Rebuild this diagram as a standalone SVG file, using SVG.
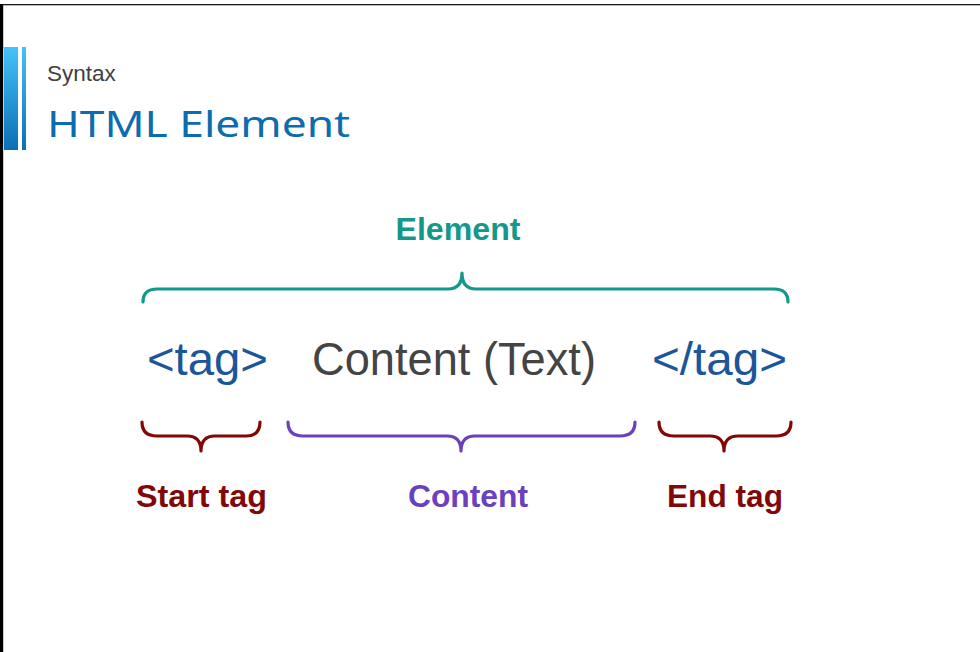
<svg xmlns="http://www.w3.org/2000/svg" width="980" height="652" viewBox="0 0 980 652">
<defs>
<linearGradient id="bar" x1="0" y1="0" x2="0" y2="1">
<stop offset="0" stop-color="#45c2f8"/>
<stop offset="1" stop-color="#0b6fb6"/>
</linearGradient>
<style>
.brace{fill:none;stroke-width:3.2;stroke-linecap:round;stroke-linejoin:round}
.lbl{font-family:"Liberation Sans",Arial,sans-serif;font-weight:bold;font-size:32px;text-anchor:middle}
.code{font-family:"Liberation Sans",Arial,sans-serif;font-size:47px}
</style>
</defs>
<rect width="980" height="652" fill="#ffffff"/>
<rect x="0" y="4" width="980" height="1.3" fill="#1a1a1a"/>
<rect x="0" y="4" width="3.2" height="648" fill="#000000"/>
<rect x="4" y="47" width="14" height="103" fill="url(#bar)"/>
<rect x="22" y="47" width="4" height="103" fill="url(#bar)"/>
<text x="47" y="81" font-family="'Liberation Sans',Arial,sans-serif" font-size="22.5" fill="#404040">Syntax</text>
<text x="47" y="137" font-family="'Noto Sans',sans-serif" font-size="37" fill="#0d6cb0" textLength="303" lengthAdjust="spacingAndGlyphs">HTML Element</text>

<g id="element">
<text class="lbl" x="458" y="240" fill="#14988a" textLength="125" lengthAdjust="spacingAndGlyphs">Element</text>
</g>
<g id="start-tag-code"><text class="code" x="147" y="375" fill="#1c5599" textLength="121" lengthAdjust="spacingAndGlyphs">&lt;tag&gt;</text></g>
<g id="content-code"><text class="code" x="312" y="375" fill="#444444" textLength="284" lengthAdjust="spacingAndGlyphs">Content (Text)</text></g>
<g id="end-tag-code"><text class="code" x="652" y="375" fill="#1c5599" textLength="135" lengthAdjust="spacingAndGlyphs">&lt;/tag&gt;</text></g>
<g id="start-tag"><text class="lbl" x="201.5" y="507" fill="#820808" textLength="131" lengthAdjust="spacingAndGlyphs">Start tag</text></g>
<g id="content"><text class="lbl" x="468" y="507" fill="#6a40bf" textLength="120" lengthAdjust="spacingAndGlyphs">Content</text></g>
<g id="end-tag"><text class="lbl" x="725" y="507" fill="#820808" textLength="116" lengthAdjust="spacingAndGlyphs">End tag</text></g>

<g id="connectors">
<path class="brace" stroke="#14988a" d="M143,302 Q143,289 157,289 L448,289 Q462,289 462,273 Q462,289 476,289 L774,289 Q788,289 788,302"/>
<path class="brace" stroke="#820808" d="M142,422 Q142,436 157,436 L187,436 Q201,436 201,451 Q201,436 215,436 L246,436 Q260,436 260,422"/>
<path class="brace" stroke="#6a40bf" d="M288,422 Q288,436 303,436 L447,436 Q461,436 461,451 Q461,436 475,436 L620,436 Q635,436 635,422"/>
<path class="brace" stroke="#820808" d="M659,422 Q659,436 674,436 L710,436 Q724,436 724,451 Q724,436 738,436 L776,436 Q791,436 791,422"/>
</g>
</svg>
